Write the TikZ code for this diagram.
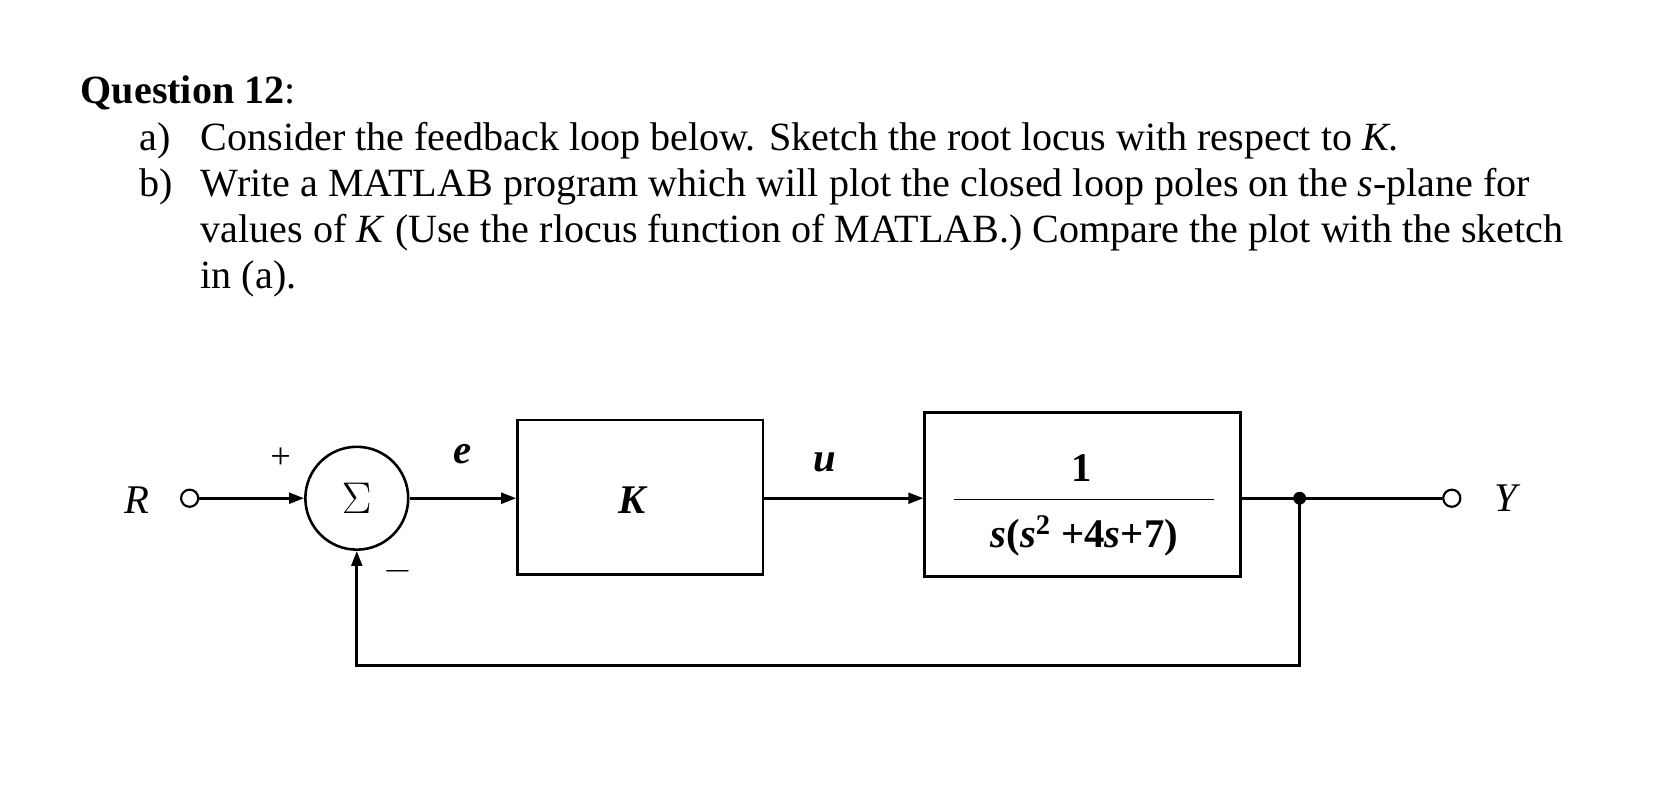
\documentclass[tikz,border=0pt]{standalone}
\usepackage{fontspec}
\setmainfont{Liberation Serif}
\usetikzlibrary{arrows.meta}
\begin{document}
\begin{tikzpicture}[x=0.5pt,y=-0.5pt,
  txt/.style={anchor=base west,inner sep=0pt,font=\fontsize{18.7}{20}\selectfont},
  blk/.style={draw,line width=1.2pt,inner sep=0pt},
  sig/.style={line width=1.3pt,-{Triangle[length=7pt,width=5pt]}},
  wire/.style={line width=1.3pt},
  port/.style={circle,draw,line width=1pt,fill=white,minimum size=8pt,inner sep=0pt},
  lbl/.style={font=\fontsize{19}{22}\selectfont\itshape,inner sep=0pt}]
\useasboundingbox (0,0) rectangle (1568,739);
\node[txt] (q) at (75,97) {\textbf{Question 12}:};
\node[txt] (la) at (130,140) {a)};
\node[txt] (ta) at (187,140) {Consider the feedback loop below. Sketch the root locus with respect to \textit{K}.};
\node[txt] (lb) at (130,183) {b)};
\node[txt] (tb1) at (187,183) {Write a MATLAB program which will plot the closed loop poles on the \textit{s}-plane for};
\node[txt] (tb2) at (187,226) {values of \textit{K} (Use the rlocus function of MATLAB.) Compare the plot with the sketch};
\node[txt] (tb3) at (187,269) {in (a).};

\node[circle,draw,line width=1.2pt,minimum size=48pt,inner sep=0pt] (sum) at (333,465) {\fontsize{21}{24}\selectfont$\Sigma$};
\node[blk,minimum width=114.5pt,minimum height=72pt] (k) at (597.5,464) {};
\node[lbl,font=\fontsize{19}{22}\selectfont\bfseries\itshape] (kl) at (590,467) {K};
\node[blk,minimum width=147.5pt,minimum height=76.5pt] (g) at (1010.5,461.5) {};
\node[inner sep=0pt,font=\fontsize{19}{22}\selectfont\bfseries] (num) at (1010,437) {1};
\node[inner sep=0pt,font=\fontsize{19}{22}\selectfont\bfseries] (den) at (1012,500) {\textit{s}(\textit{s}$^{\mathbf 2}$ +4\textit{s}+7)};
\draw[line width=0.6pt] (890,466) -- (1133,466);
\node[port] (r) at (177,465) {};
\node[lbl,font=\fontsize{19}{22}\selectfont\itshape] (rl) at (128,467) {R};
\node[port] (y) at (1355,465) {};
\node[lbl,font=\fontsize{19}{22}\selectfont\itshape] (yl) at (1405,465) {Y};
\coordinate (br) at (1213,465);
\fill (br) circle (6);
\coordinate (c1) at (1213,621);
\coordinate (c2) at (333,621);
\draw[sig] (r) -- (sum);
\draw[sig] (sum) -- (k.west |- sum);
\draw[sig] (k.east |- sum) -- (g.west |- sum);
\draw[wire] (g.east |- br) -- (br) -- (y);
\draw[sig] (br) -- (c1) -- (c2) -- (sum.south);
\node[font=\fontsize{17}{20}\selectfont] (plus) at (262,428) {+};
\node[font=\fontsize{17}{20}\selectfont] (minus) at (371,533) {$-$};
\node[font=\fontsize{19}{22}\selectfont\bfseries\itshape] (el) at (432,424) {e};
\node[font=\fontsize{19}{22}\selectfont\bfseries\itshape] (ul) at (770,432) {u};
\end{tikzpicture}
\end{document}
